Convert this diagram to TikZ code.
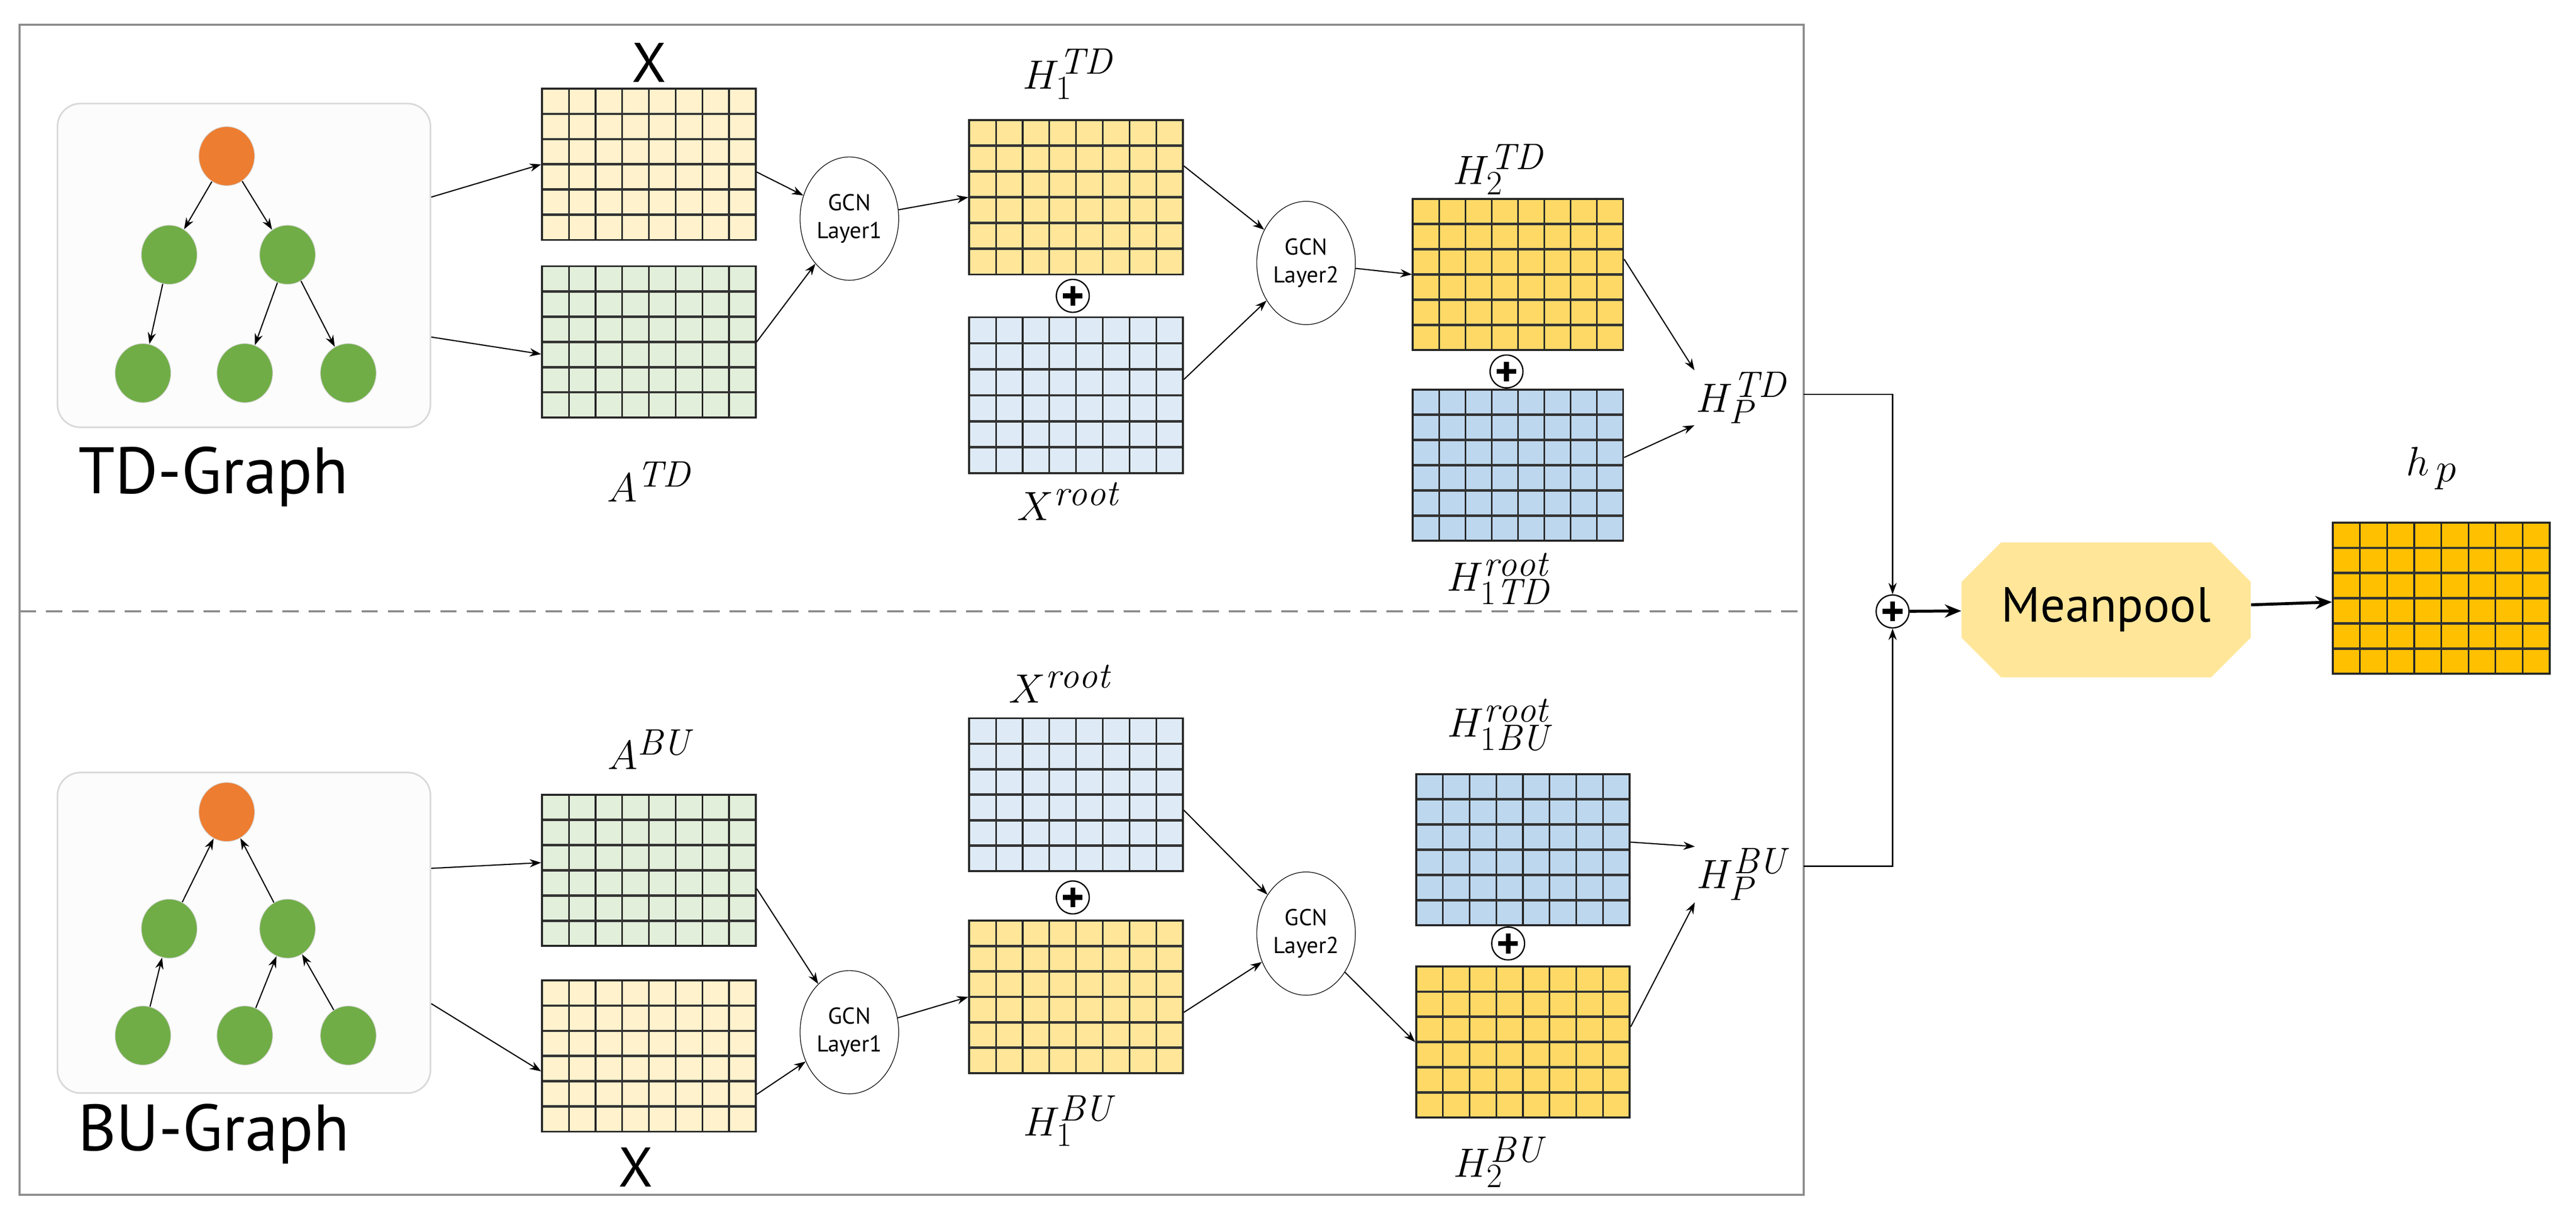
\documentclass[tikz,border=0pt]{standalone}
\usepackage{fontspec}
\newfontfamily\gsans{PT Sans}
\usetikzlibrary{calc,arrows.meta,shapes.misc,shapes.geometric}
\definecolor{cX}{HTML}{FFF2CC}
\definecolor{cA}{HTML}{E2EFDA}
\definecolor{cH}{HTML}{FFE699}
\definecolor{cHH}{HTML}{FFD966}
\definecolor{cR}{HTML}{DEEBF7}
\definecolor{cRR}{HTML}{BDD7EE}
\definecolor{cP}{HTML}{FFC000}
\definecolor{cO}{HTML}{ED7D31}
\definecolor{cG}{HTML}{70AD47}
\begin{document}
\begin{tikzpicture}[x=1pt,y=-1pt,
  mat/.style={draw=black!85, line width=1.2pt, minimum width=130pt, minimum height=92pt, inner sep=0pt,
    path picture={
      \foreach \i in {1,...,7}{\draw[line width=1pt] ($(path picture bounding box.south west)!\i/8!(path picture bounding box.south east)$) -- ++(0,100pt);}
      \foreach \j in {1,...,5}{\draw[line width=1.5pt,black!80] ($(path picture bounding box.south west)!\j/6!(path picture bounding box.north west)$) -- ++(140pt,0);}
    }},
  gcn/.style={draw, ellipse, minimum width=60pt, minimum height=75pt, inner sep=0pt, align=center, font=\gsans\fontsize{14}{17}\selectfont},
  oplus/.style={draw, circle, minimum size=20pt, inner sep=0pt, line width=0.8pt,
    path picture={\draw[line width=3pt] ($(path picture bounding box.center)+(-6pt,0)$) -- ++(12pt,0);
                  \draw[line width=3pt] ($(path picture bounding box.center)+(0,-6pt)$) -- ++(0,12pt);}},
  tn/.style={ellipse, minimum width=34pt, minimum height=36pt, inner sep=0pt, draw=white!85!black},
  lab/.style={font=\fontsize{32}{36}\selectfont},
  arr/.style={-{Stealth[length=7pt,width=5pt]}, line width=0.7pt},
  gbox/.style={draw=black!15, line width=1pt, rounded corners=14pt, fill=black!1},
]
\useasboundingbox (0,0) rectangle (1568,741);
% frame
\draw[black!45, line width=1.2pt] (12,15) rectangle (1098,727);
\draw[black!45, dashed, dash pattern=on 10pt off 6pt, line width=1.2pt] (12,372) -- (1098,372);

% ---------------- TD ----------------
\node[gbox, minimum width=227pt, minimum height=197pt] (tdg) at (148.5,161.5) {};
\node[tn, fill=cO] (t0) at (138,95) {};
\node[tn, fill=cG] (t1) at (103,155) {};
\node[tn, fill=cG] (t2) at (175,155) {};
\node[tn, fill=cG] (t3) at (87,227) {};
\node[tn, fill=cG] (t4) at (149,227) {};
\node[tn, fill=cG] (t5) at (212,227) {};
\draw[arr] (t0) -- (t1); \draw[arr] (t0) -- (t2);
\draw[arr] (t1) -- (t3); \draw[arr] (t2) -- (t4); \draw[arr] (t2) -- (t5);
\node[font=\gsans\fontsize{40}{44}\selectfont] (tdl) at (130,290) {TD-Graph};

\node[mat, fill=cX] (xtd) at (395,100) {};
\node[font=\gsans\fontsize{34}{38}\selectfont] (xtdl) at (395,38) {X};
\node[mat, fill=cA] (atd) at (395,208) {};
\node[lab] (atdl) at (395,293) {$A^{\mathit{TD}}$};
\node[gcn] (g1td) at (517,133) {GCN\\Layer1};
\node[mat, fill=cH, minimum height=94pt] (h1td) at (655,120) {};
\node[lab] (h1tdl) at (650,45) {$H_1^{\mathit{TD}}$};
\node[oplus] (p1td) at (653,180) {};
\node[mat, fill=cR, minimum height=95pt] (rtd) at (655,240.5) {};
\node[lab] (rtdl) at (650,305) {$X^{\mathit{root}}$};
\node[gcn] (g2td) at (795,160) {GCN\\Layer2};
\node[mat, fill=cHH, minimum width=128pt] (h2td) at (924,167) {};
\node[lab] (h2tdl) at (912,103) {$H_2^{\mathit{TD}}$};
\node[oplus] (p2td) at (917,226) {};
\node[mat, fill=cRR, minimum width=128pt] (r2td) at (924,283) {};
\node[lab] (r2tdl) at (912,352) {$H_{1\mathit{TD}}^{\mathit{root}}$};
\node[lab, inner sep=1pt] (hptd) at (1060,242) {$H_P^{\mathit{TD}}$};

\draw[arr] ($(tdg.north east)!0.29!(tdg.south east)$) -- (xtd.west);
\draw[arr] ($(tdg.north east)!0.72!(tdg.south east)$) -- ($(atd.north west)!0.58!(atd.south west)$);
\draw[arr] ($(xtd.north east)!0.55!(xtd.south east)$) -- (g1td);
\draw[arr] ($(atd.north east)!0.5!(atd.south east)$) -- (g1td);
\draw[arr] (g1td) -- (h1td.west);
\draw[arr] ($(h1td.north east)!0.3!(h1td.south east)$) -- (g2td);
\draw[arr] ($(rtd.north east)!0.4!(rtd.south east)$) -- (g2td);
\draw[arr] (g2td) -- (h2td.west);
\draw[arr] ($(h2td.north east)!0.4!(h2td.south east)$) -- (hptd.north west);
\draw[arr] ($(r2td.north east)!0.45!(r2td.south east)$) -- (hptd.south west);

% ---------------- BU ----------------
\node[gbox, minimum width=227pt, minimum height=195pt] (bug) at (148.5,567.5) {};
\node[tn, fill=cO] (b0) at (138,494) {};
\node[tn, fill=cG] (b1) at (103,565) {};
\node[tn, fill=cG] (b2) at (175,565) {};
\node[tn, fill=cG] (b3) at (87,630) {};
\node[tn, fill=cG] (b4) at (149,630) {};
\node[tn, fill=cG] (b5) at (212,630) {};
\draw[arr] (b1) -- (b0); \draw[arr] (b2) -- (b0);
\draw[arr] (b3) -- (b1); \draw[arr] (b4) -- (b2); \draw[arr] (b5) -- (b2);
\node[font=\gsans\fontsize{40}{44}\selectfont] (bul) at (130,690) {BU-Graph};

\node[mat, fill=cA] (abu) at (395,529.5) {};
\node[lab] (abul) at (395,456) {$A^{\mathit{BU}}$};
\node[mat, fill=cX] (xbu) at (395,642.5) {};
\node[font=\gsans\fontsize{34}{38}\selectfont] (xbul) at (387,710) {X};
\node[gcn] (g1bu) at (517,628) {GCN\\Layer1};
\node[mat, fill=cR, minimum height=93pt] (rbu) at (655,483.5) {};
\node[lab] (rbul) at (645,416) {$X^{\mathit{root}}$};
\node[oplus] (p1bu) at (653,546) {};
\node[mat, fill=cH, minimum height=93pt] (h1bu) at (655,606.5) {};
\node[lab] (h1bul) at (650,682) {$H_1^{\mathit{BU}}$};
\node[gcn] (g2bu) at (795,568) {GCN\\Layer2};
\node[mat, fill=cRR] (r2bu) at (927,517) {};
\node[lab] (r2bul) at (912,441) {$H_{1\mathit{BU}}^{\mathit{root}}$};
\node[oplus] (p2bu) at (918,574) {};
\node[mat, fill=cHH] (h2bu) at (927,634) {};
\node[lab] (h2bul) at (912,707) {$H_2^{\mathit{BU}}$};
\node[lab, inner sep=1pt] (hpbu) at (1060,532) {$H_P^{\mathit{BU}}$};

\draw[arr] ($(bug.north east)!0.3!(bug.south east)$) -- ($(abu.north west)!0.45!(abu.south west)$);
\draw[arr] ($(bug.north east)!0.72!(bug.south east)$) -- ($(xbu.north west)!0.6!(xbu.south west)$);
\draw[arr] ($(abu.north east)!0.62!(abu.south east)$) -- (g1bu);
\draw[arr] ($(xbu.north east)!0.75!(xbu.south east)$) -- (g1bu);
\draw[arr] (g1bu) -- (h1bu.west);
\draw[arr] ($(rbu.north east)!0.6!(rbu.south east)$) -- (g2bu);
\draw[arr] ($(h1bu.north east)!0.6!(h1bu.south east)$) -- (g2bu);
\draw[arr] (g2bu) -- (h2bu.west);
\draw[arr] ($(r2bu.north east)!0.45!(r2bu.south east)$) -- (hpbu.north west);
\draw[arr] ($(h2bu.north east)!0.4!(h2bu.south east)$) -- (hpbu.south west);

% ---------------- merge ----------------
\node[oplus] (pm) at (1152,372) {};
\coordinate (ctd) at (1098,240);
\coordinate (cbu) at (1098,527);
\draw[arr] (ctd) -| (pm.north);
\draw[arr] (cbu) -| (pm.south);
\node[chamfered rectangle, chamfered rectangle xsep=8pt, chamfered rectangle ysep=16pt, fill=cH, minimum width=176pt, minimum height=82pt, inner sep=0pt,
      font=\gsans\fontsize{30}{34}\selectfont] (mp) at (1282,371) {Meanpool};
\node[mat, fill=cP, minimum width=132pt] (hp) at (1486,364) {};
\node[font=\fontsize{56}{60}\selectfont] (hpl) at (1480,285) {$h_{\,p}$};
\draw[-{Stealth[length=10pt,width=8pt]}, line width=1.8pt] (pm) -- (mp);
\draw[-{Stealth[length=10pt,width=8pt]}, line width=1.8pt] (mp) -- (hp);
\end{tikzpicture}
\end{document}
